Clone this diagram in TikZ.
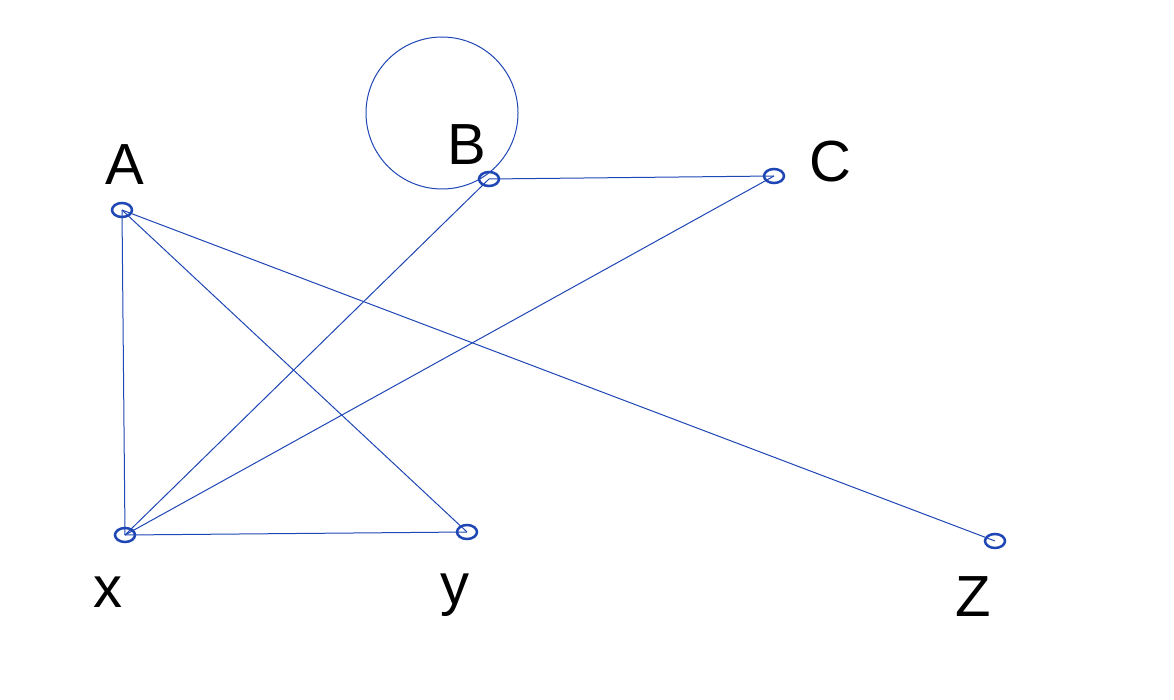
\documentclass[tikz,border=0pt]{standalone}
\usepackage{fontspec}
\usetikzlibrary{shapes.geometric}
\setmainfont{Liberation Sans}
\definecolor{pen}{RGB}{30,70,180}
\begin{document}
\begin{tikzpicture}[x=1pt,y=-1pt,
  vtx/.style={ellipse,draw=pen,line width=2.5pt,inner sep=0pt,minimum width=20pt,minimum height=14pt},
  edge/.style={draw=pen,line width=1pt},
  lbl/.style={font=\fontsize{58}{58}\selectfont,text=black}]
\useasboundingbox (0,0) rectangle (1174,700);
\node[vtx] (A) at (122,210) {};
\node[vtx] (B) at (489,179) {};
\node[vtx] (C) at (774,176) {};
\node[vtx] (X) at (125,535) {};
\node[vtx] (Y) at (467,532) {};
\node[vtx] (Z) at (995,541) {};
\draw[edge] (442,113) circle (76);
\draw[edge] (A.center) -- (X.center);
\draw[edge] (A.center) -- (Y.center);
\draw[edge] (A.center) -- (Z.center);
\draw[edge] (B.center) -- (C.center);
\draw[edge] (B.center) -- (X.center);
\draw[edge] (C.center) -- (X.center);
\draw[edge] (X.center) -- (Y.center);
\node[lbl] (la) at (125,165) {A};
\node[lbl] (lb) at (467,145) {B};
\node[lbl] (lc) at (830,162) {C};
\node[lbl] (lx) at (108,592) {x};
\node[lbl] (ly) at (455,595) {y};
\node[lbl] (lz) at (973,597) {Z};
\end{tikzpicture}
\end{document}
